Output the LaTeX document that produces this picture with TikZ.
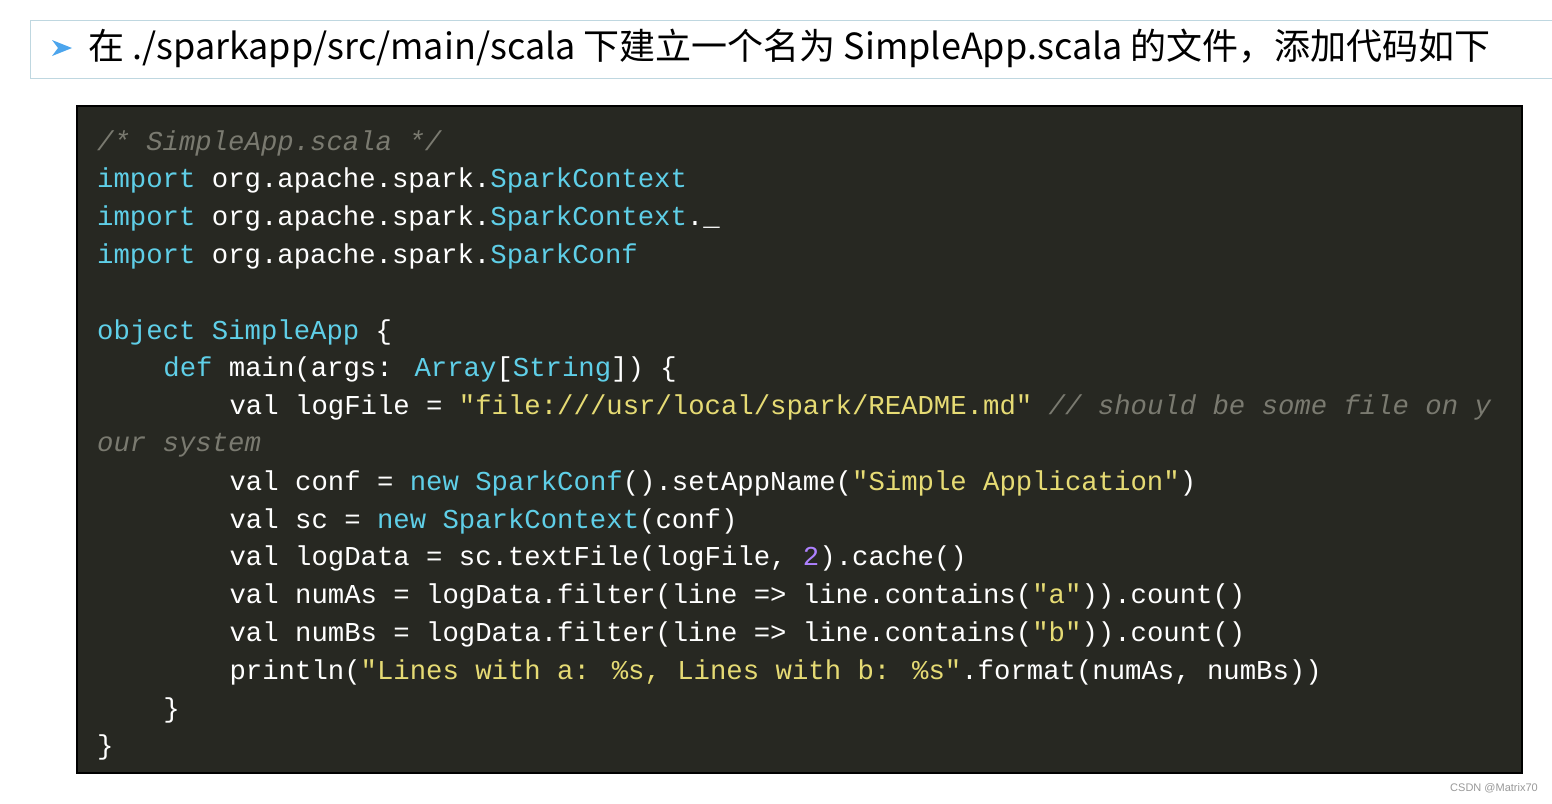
\documentclass[tikz,border=0pt]{standalone}
\usepackage{fontspec}
\setmainfont{Liberation Sans}
\newfontfamily\cjk{Noto Sans CJK SC}
\newfontfamily\code{Liberation Mono}
\definecolor{bg}{HTML}{272822}
\definecolor{kw}{HTML}{5FCFE8}
\definecolor{st}{HTML}{E6DB74}
\definecolor{cm}{HTML}{7A7A70}
\definecolor{nm}{HTML}{AE81FF}
\definecolor{hdr}{HTML}{BFD7E0}
\newcommand{\K}[1]{\textcolor{kw}{#1}}
\newcommand{\Sx}[1]{\textcolor{st}{#1}}
\newcommand{\C}[1]{\textcolor{cm}{\itshape #1}}
\newcommand{\N}[1]{\textcolor{nm}{#1}}
\begin{document}
\begin{tikzpicture}[x=1pt,y=-1pt,
  ln/.style={anchor=west,inner sep=0pt,text=white,font=\code\fontsize{27.3}{30}\selectfont}]
\useasboundingbox (0,0) rectangle (1552,803);
\fill[white] (0,0) rectangle (1552,803);
\draw[hdr,line width=1pt] (30,20) rectangle (1552,78);
\fill[kw!80!blue] (52,40) -- (72,48) -- (52,56) -- (58,48) -- cycle;
\node[anchor=west,inner sep=0pt,font=\cjk\fontsize{36}{40}\selectfont] (h) at (88,48) {在 ./sparkapp/src/main/scala 下建立一个名为 SimpleApp.scala 的文件，添加代码如下};
\draw[black,line width=2pt,fill=bg] (77,106) rectangle (1522,773);
\def\cx#1{97+#1*16.55}
\def\ly#1{143+#1*37.8}
\node[ln] (l0) at (\cx{0},\ly{0}) {\C{/* SimpleApp.scala */}};
\node[ln] (l1) at (\cx{0},\ly{1}) {\K{import} org.apache.spark.\K{SparkContext}};
\node[ln] (l2) at (\cx{0},\ly{2}) {\K{import} org.apache.spark.\K{SparkContext}.\_};
\node[ln] (l3) at (\cx{0},\ly{3}) {\K{import} org.apache.spark.\K{SparkConf}};
\node[ln] (l5) at (\cx{0},\ly{5}) {\K{object} \K{SimpleApp} \{};
\node[ln] (l6) at (\cx{4},\ly{6}) {\K{def} main(args: \K{Array}[\K{String}]) \{};
\node[ln] (l7) at (\cx{8},\ly{7}) {val logFile = \Sx{"file:///usr/local/spark/README.md"} \C{// should be some file on y}};
\node[ln] (l8) at (\cx{0},\ly{8}) {\C{our system}};
\node[ln] (l9) at (\cx{8},\ly{9}) {val conf = \K{new} \K{SparkConf}().setAppName(\Sx{"Simple Application"})};
\node[ln] (l10) at (\cx{8},\ly{10}) {val sc = \K{new} \K{SparkContext}(conf)};
\node[ln] (l11) at (\cx{8},\ly{11}) {val logData = sc.textFile(logFile, \N{2}).cache()};
\node[ln] (l12) at (\cx{8},\ly{12}) {val numAs = logData.filter(line => line.contains(\Sx{"a"})).count()};
\node[ln] (l13) at (\cx{8},\ly{13}) {val numBs = logData.filter(line => line.contains(\Sx{"b"})).count()};
\node[ln] (l14) at (\cx{8},\ly{14}) {println(\Sx{"Lines with a: \%s, Lines with b: \%s"}.format(numAs, numBs))};
\node[ln] (l15) at (\cx{4},\ly{15}) {\}};
\node[ln] (l16) at (\cx{0},\ly{16}) {\}};
\node[anchor=east,inner sep=0pt,text=gray!80,font=\fontsize{11}{12}\selectfont] (wm) at (1538,788) {CSDN @Matrix70};
\end{tikzpicture}
\end{document}
